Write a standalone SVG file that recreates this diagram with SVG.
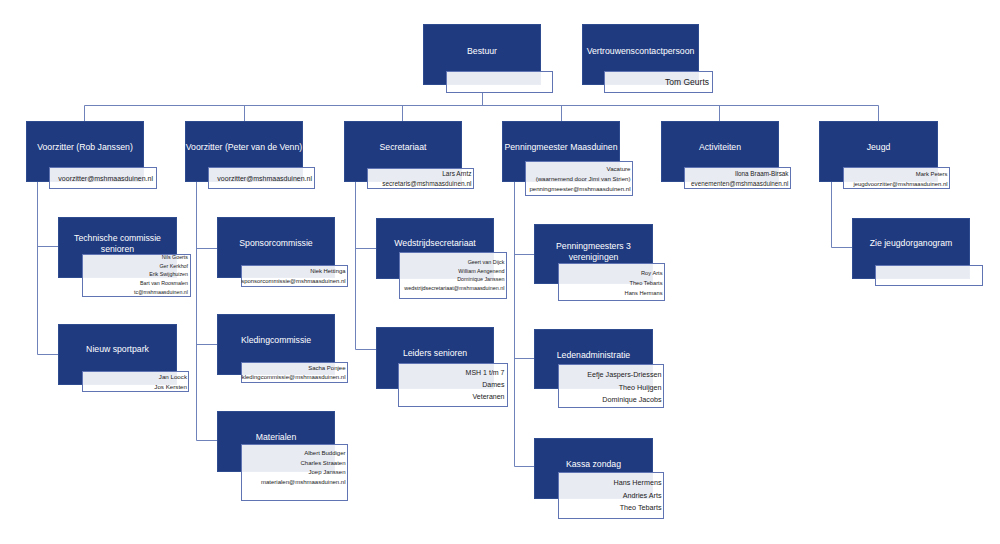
<svg xmlns="http://www.w3.org/2000/svg" width="1000" height="544" viewBox="0 0 1000 544">
<style>
.bx{fill:#1f3a7f;stroke:#2f4b90;stroke-width:1}
.lb{fill:#ffffff;fill-opacity:0.9;stroke:#6073b2;stroke-width:1}
.cn{fill:none;stroke:#6f82ba;stroke-width:1}
.t{fill:#ffffff;font-family:"Liberation Sans",Arial,sans-serif;font-size:8.7px;text-anchor:middle}
.s{fill:#1a1a1a;font-family:"Liberation Sans",Arial,sans-serif;text-anchor:end}
</style>
<rect width="1000" height="544" fill="#ffffff"/>
<g id="connectors">
<path class="cn" d="M482.5 92V105.5M84.5 105.5H878.5M84.5 105.5V121M244.5 105.5V121M402.5 105.5V121M561.5 105.5V121M719.5 105.5V121M878.5 105.5V121"/>
<path class="cn" d="M37.5 181V354.5H58M37.5 246.5H58"/>
<path class="cn" d="M196.5 181V440.5H217M196.5 248.5H217M196.5 344.5H217"/>
<path class="cn" d="M355.5 181V349.5H376M355.5 248.5H376"/>
<path class="cn" d="M514.5 181V466.5H534M514.5 254.5H534M514.5 358.5H534"/>
<path class="cn" d="M831.5 181V247.5H852"/>
</g>
<g id="bestuur">
<rect class="bx" x="423.5" y="24.5" width="117" height="60"/>
<rect class="lb" x="446.5" y="71.5" width="106" height="21"/>
<text class="t" x="482" y="54">Bestuur</text>
</g>
<g id="vertrouwenscontactpersoon">
<rect class="bx" x="582.5" y="24.5" width="116" height="60"/>
<rect class="lb" x="604.5" y="71.5" width="108" height="21"/>
<text class="t" x="640.5" y="54">Vertrouwenscontactpersoon</text>
<text class="s" x="709" y="85" font-size="8.5">Tom Geurts</text>
</g>
<g id="voorzitter-rob">
<rect class="bx" x="26.5" y="121.5" width="117" height="60"/>
<rect class="lb" x="49.5" y="167.5" width="107" height="21"/>
<text class="t" x="85" y="150">Voorzitter (Rob Janssen)</text>
<text class="s" x="153" y="180.5" font-size="7">voorzitter@mshmaasduinen.nl</text>
</g>
<g id="technische-commissie">
<rect class="bx" x="58.5" y="217.5" width="118" height="60"/>
<rect class="lb" x="82.5" y="254.5" width="108" height="42"/>
<text class="t" x="117.5" y="241" font-size="9.2">Technische commissie</text>
<text class="t" x="117.5" y="252" font-size="9.2">senioren</text>
<text class="s" x="188" y="259" font-size="5.3">Nils Goerts</text>
<text class="s" x="188" y="267.5" font-size="5.3">Ger Kerkhof</text>
<text class="s" x="188" y="276" font-size="5.3">Erik Swijghuizen</text>
<text class="s" x="188" y="285" font-size="5.3">Bart van Roosmalen</text>
<text class="s" x="188" y="294" font-size="5.3">tc@mshmaasduinen.nl</text>
</g>
<g id="nieuw-sportpark">
<rect class="bx" x="58.5" y="324.5" width="118" height="60"/>
<rect class="lb" x="82.5" y="371.5" width="106" height="20"/>
<text class="t" x="117.5" y="352">Nieuw sportpark</text>
<text class="s" x="187" y="378.5" font-size="6.2">Jan Loock</text>
<text class="s" x="187" y="388.5" font-size="6.2">Jos Kersten</text>
</g>
<g id="voorzitter-peter">
<rect class="bx" x="185.5" y="121.5" width="117" height="60"/>
<rect class="lb" x="208.5" y="167.5" width="106" height="21"/>
<text class="t" x="244" y="150">Voorzitter (Peter van de Venn)</text>
<text class="s" x="312" y="180.5" font-size="7">voorzitter@mshmaasduinen.nl</text>
</g>
<g id="sponsorcommissie">
<rect class="bx" x="217.5" y="217.5" width="117" height="60"/>
<rect class="lb" x="241.5" y="265.5" width="106" height="21"/>
<text class="t" x="276" y="246">Sponsorcommissie</text>
<text class="s" x="345.5" y="272.5" font-size="5.9">Niek Hettinga</text>
<text class="s" x="345.5" y="282.5" font-size="5.9">sponsorcommissie@mshmaasduinen.nl</text>
</g>
<g id="kledingcommissie">
<rect class="bx" x="217.5" y="314.5" width="117" height="60"/>
<rect class="lb" x="241.5" y="362.5" width="106" height="20"/>
<text class="t" x="276" y="343">Kledingcommissie</text>
<text class="s" x="345.5" y="369.5" font-size="6">Sacha Ponjee</text>
<text class="s" x="345.5" y="379" font-size="6">kledingcommissie@mshmaasduinen.nl</text>
</g>
<g id="materialen">
<rect class="bx" x="217.5" y="411.5" width="117" height="60"/>
<rect class="lb" x="241.5" y="444.5" width="106" height="56"/>
<text class="t" x="276" y="440">Materialen</text>
<text class="s" x="345.5" y="455" font-size="6">Albert Buddiger</text>
<text class="s" x="345.5" y="464.5" font-size="6">Charles Straaten</text>
<text class="s" x="345.5" y="474" font-size="6">Joep Janssen</text>
<text class="s" x="345.5" y="483.5" font-size="6">materialen@mshmaasduinen.nl</text>
</g>
<g id="secretariaat">
<rect class="bx" x="344.5" y="121.5" width="117" height="60"/>
<rect class="lb" x="367.5" y="168.5" width="106" height="20"/>
<text class="t" x="403" y="150">Secretariaat</text>
<text class="s" x="471.5" y="175.5" font-size="6.5">Lars Arntz</text>
<text class="s" x="471.5" y="186" font-size="6.5">secretaris@mshmaasduinen.nl</text>
</g>
<g id="wedstrijdsecretariaat">
<rect class="bx" x="376.5" y="218.5" width="117" height="60"/>
<rect class="lb" x="399.5" y="252.5" width="107" height="46"/>
<text class="t" x="435" y="246">Wedstrijdsecretariaat</text>
<text class="s" x="504.5" y="264" font-size="5.4">Geert van Dijck</text>
<text class="s" x="504.5" y="272.5" font-size="5.4">William Aengenend</text>
<text class="s" x="504.5" y="281" font-size="5.4">Dominique Janssen</text>
<text class="s" x="504.5" y="290" font-size="5.4">wedstrijdsecretariaat@mshmaasduinen.nl</text>
</g>
<g id="leiders-senioren">
<rect class="bx" x="376.5" y="327.5" width="117" height="61"/>
<rect class="lb" x="398.5" y="363.5" width="109" height="43"/>
<text class="t" x="435" y="356">Leiders senioren</text>
<text class="s" x="504.5" y="374.5" font-size="7">MSH 1 t/m 7</text>
<text class="s" x="504.5" y="386.5" font-size="7">Dames</text>
<text class="s" x="504.5" y="399" font-size="7">Veteranen</text>
</g>
<g id="penningmeester">
<rect class="bx" x="502.5" y="121.5" width="117" height="60"/>
<rect class="lb" x="525.5" y="161.5" width="107" height="34"/>
<text class="t" x="561" y="150">Penningmeester Maasduinen</text>
<text class="s" x="630.5" y="170.5" font-size="6.1">Vacature</text>
<text class="s" x="630.5" y="180.5" font-size="6.1">(waarnemend door Jimi van Strien)</text>
<text class="s" x="630.5" y="190.5" font-size="6.1">penningmeester@mshmaasduinen.nl</text>
</g>
<g id="penningmeesters-3">
<rect class="bx" x="534.5" y="224.5" width="118" height="59"/>
<rect class="lb" x="558.5" y="263.5" width="106" height="37"/>
<text class="t" x="593.5" y="249">Penningmeesters 3</text>
<text class="t" x="593.5" y="259.5">verenigingen</text>
<text class="s" x="662.5" y="274.5" font-size="5.7">Roy Arts</text>
<text class="s" x="662.5" y="284.5" font-size="5.7">Theo Tebarts</text>
<text class="s" x="662.5" y="294.5" font-size="5.7">Hans Hermans</text>
</g>
<g id="ledenadministratie">
<rect class="bx" x="534.5" y="329.5" width="118" height="59"/>
<rect class="lb" x="558.5" y="364.5" width="105" height="43"/>
<text class="t" x="593.5" y="358">Ledenadministratie</text>
<text class="s" x="661.5" y="376.5" font-size="7.2">Eefje Jaspers-Driessen</text>
<text class="s" x="661.5" y="389.5" font-size="7.2">Theo Huijgen</text>
<text class="s" x="661.5" y="401.5" font-size="7.2">Dominique Jacobs</text>
</g>
<g id="kassa-zondag">
<rect class="bx" x="534.5" y="438.5" width="118" height="60"/>
<rect class="lb" x="558.5" y="472.5" width="105" height="46"/>
<text class="t" x="593.5" y="467">Kassa zondag</text>
<text class="s" x="661.5" y="485" font-size="7.2">Hans Hermens</text>
<text class="s" x="661.5" y="497.5" font-size="7.2">Andries Arts</text>
<text class="s" x="661.5" y="510" font-size="7.2">Theo Tebarts</text>
</g>
<g id="activiteiten">
<rect class="bx" x="661.5" y="121.5" width="117" height="60"/>
<rect class="lb" x="684.5" y="167.5" width="106" height="21"/>
<text class="t" x="720" y="150">Activiteiten</text>
<text class="s" x="788.5" y="175.5" font-size="6.3">Ilona Braam-Birsak</text>
<text class="s" x="788.5" y="186" font-size="6.3">evenementen@mshmaasduinen.nl</text>
</g>
<g id="jeugd">
<rect class="bx" x="819.5" y="121.5" width="118" height="60"/>
<rect class="lb" x="843.5" y="167.5" width="106" height="21"/>
<text class="t" x="878.5" y="150">Jeugd</text>
<text class="s" x="947.5" y="175.5" font-size="5.9">Mark Peters</text>
<text class="s" x="947.5" y="186" font-size="5.9">jeugdvoorzitter@mshmaasduinen.nl</text>
</g>
<g id="zie-jeugdorganogram">
<rect class="bx" x="852.5" y="218.5" width="117" height="60"/>
<rect class="lb" x="875.5" y="265.5" width="107" height="20"/>
<text class="t" x="911" y="246">Zie jeugdorganogram</text>
</g>
</svg>
